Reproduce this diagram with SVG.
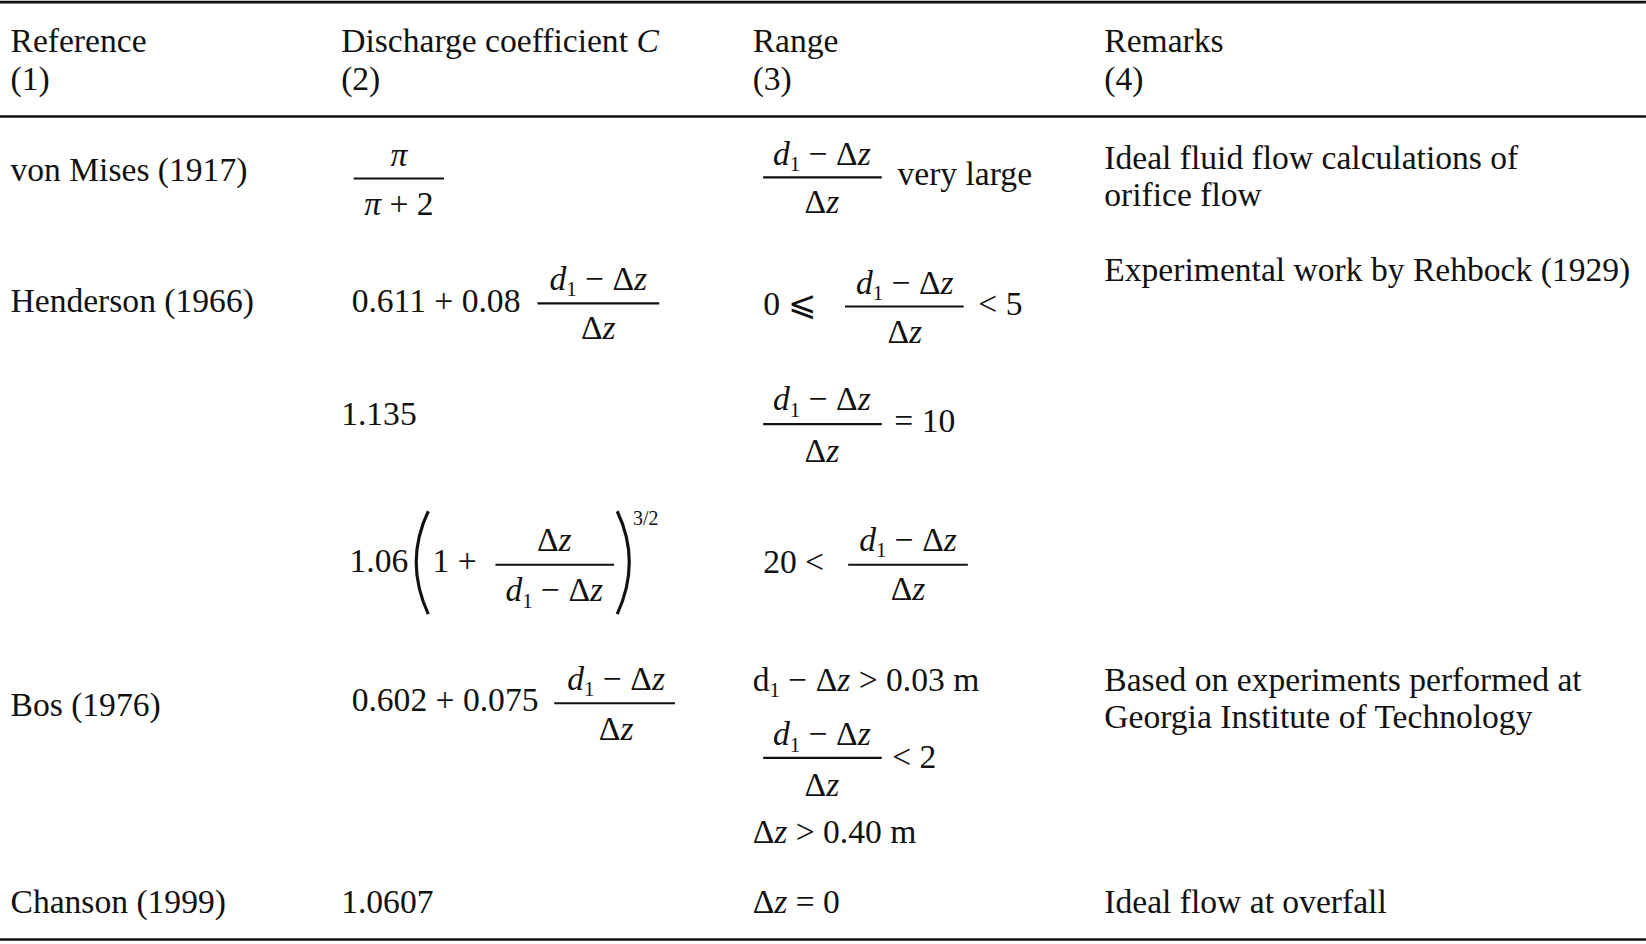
<svg xmlns="http://www.w3.org/2000/svg" width="1646" height="944" viewBox="0 0 1646 944">
<style>
text{font-family:"Liberation Serif","Times New Roman",serif;font-size:32px;fill:#111}
.i{font-style:italic}
.s{font-size:20px}
.sup{font-size:19px}
.fl{stroke:#111;stroke-width:2}
.rule{stroke:#111;stroke-width:2.5}
</style>
<rect width="1646" height="944" fill="#fff"/>
<g transform="scale(1.0497)">
<g id="rules">
<line class="rule" x1="0" y1="2" x2="1568" y2="2"/>
<line class="rule" x1="0" y1="111" x2="1568" y2="111"/>
<line class="rule" x1="0" y1="895" x2="1568" y2="895" stroke-width="3"/>
</g>
<g id="header">
<text x="10" y="50">Reference</text><text x="10" y="86">(1)</text>
<text x="325" y="50">Discharge coefficient <tspan class="i">C</tspan></text><text x="325" y="86">(2)</text>
<text x="717" y="50">Range</text><text x="717" y="86">(3)</text>
<text x="1052" y="50">Remarks</text><text x="1052" y="86">(4)</text>
</g>
<g id="row-vonmises">
<text x="10" y="172">von Mises (1917)</text>
<text x="380" y="158" text-anchor="middle" class="i">π</text>
<line class="fl" x1="337" y1="170" x2="423" y2="170"/>
<text x="380" y="205" text-anchor="middle"><tspan class="i">π</tspan> + 2</text>
<text x="783" y="157" text-anchor="middle"><tspan class="i">d</tspan><tspan class="s" dy="6">1</tspan><tspan dy="-6"> − Δ</tspan><tspan class="i">z</tspan></text>
<line class="fl" x1="727" y1="169" x2="840" y2="169"/>
<text x="783" y="203" text-anchor="middle">Δ<tspan class="i">z</tspan></text>
<text x="855" y="176">very large</text>
<text x="1052" y="161">Ideal fluid flow calculations of</text>
<text x="1052" y="196">orifice flow</text>
</g>
<g id="row-henderson">
<text x="10" y="297">Henderson (1966)</text>
<text x="335" y="297">0.611 + 0.08</text>
<text x="570" y="276" text-anchor="middle"><tspan class="i">d</tspan><tspan class="s" dy="6">1</tspan><tspan dy="-6"> − Δ</tspan><tspan class="i">z</tspan></text>
<line class="fl" x1="512" y1="289" x2="628" y2="289"/>
<text x="570" y="323" text-anchor="middle">Δ<tspan class="i">z</tspan></text>
<text x="727" y="300">0 ⩽</text>
<text x="862" y="280" text-anchor="middle"><tspan class="i">d</tspan><tspan class="s" dy="6">1</tspan><tspan dy="-6"> − Δ</tspan><tspan class="i">z</tspan></text>
<line class="fl" x1="805" y1="292" x2="918" y2="292"/>
<text x="862" y="327" text-anchor="middle">Δ<tspan class="i">z</tspan></text>
<text x="932" y="300">&lt; 5</text>
<text x="1052" y="268">Experimental work by Rehbock (1929)</text>
</g>
<g id="row-henderson-2">
<text x="325" y="405">1.135</text>
<text x="783" y="391" text-anchor="middle"><tspan class="i">d</tspan><tspan class="s" dy="6">1</tspan><tspan dy="-6"> − Δ</tspan><tspan class="i">z</tspan></text>
<line class="fl" x1="727" y1="404" x2="840" y2="404"/>
<text x="783" y="440" text-anchor="middle">Δ<tspan class="i">z</tspan></text>
<text x="852" y="412">= 10</text>
</g>
<g id="row-henderson-3">
<text x="333" y="545">1.06</text>
<path d="M408 487 Q385 535 408 585" fill="none" stroke="#111" stroke-width="3"/>
<text x="412" y="545">1 +</text>
<text x="528" y="525" text-anchor="middle">Δ<tspan class="i">z</tspan></text>
<line class="fl" x1="472" y1="538" x2="585" y2="538"/>
<text x="528" y="573" text-anchor="middle"><tspan class="i">d</tspan><tspan class="s" dy="6">1</tspan><tspan dy="-6"> − Δ</tspan><tspan class="i">z</tspan></text>
<path d="M588 487 Q611 535 588 585" fill="none" stroke="#111" stroke-width="3"/>
<text x="603" y="500" class="sup">3/2</text>
<text x="727" y="546">20 &lt;</text>
<text x="865" y="525" text-anchor="middle"><tspan class="i">d</tspan><tspan class="s" dy="6">1</tspan><tspan dy="-6"> − Δ</tspan><tspan class="i">z</tspan></text>
<line class="fl" x1="808" y1="538" x2="922" y2="538"/>
<text x="865" y="572" text-anchor="middle">Δ<tspan class="i">z</tspan></text>
</g>
<g id="row-bos">
<text x="10" y="682">Bos (1976)</text>
<text x="335" y="677">0.602 + 0.075</text>
<text x="587" y="657" text-anchor="middle"><tspan class="i">d</tspan><tspan class="s" dy="6">1</tspan><tspan dy="-6"> − Δ</tspan><tspan class="i">z</tspan></text>
<line class="fl" x1="528" y1="670" x2="643" y2="670"/>
<text x="587" y="705" text-anchor="middle">Δ<tspan class="i">z</tspan></text>
<text x="717" y="658">d<tspan class="s" dy="6">1</tspan><tspan dy="-6"> − Δ</tspan><tspan class="i">z</tspan> &gt; 0.03 m</text>
<text x="783" y="710" text-anchor="middle"><tspan class="i">d</tspan><tspan class="s" dy="6">1</tspan><tspan dy="-6"> − Δ</tspan><tspan class="i">z</tspan></text>
<line class="fl" x1="727" y1="722" x2="840" y2="722"/>
<text x="783" y="758" text-anchor="middle">Δ<tspan class="i">z</tspan></text>
<text x="850" y="732">&lt; 2</text>
<text x="717" y="803">Δ<tspan class="i">z</tspan> &gt; 0.40 m</text>
<text x="1052" y="658">Based on experiments performed at</text>
<text x="1052" y="694">Georgia Institute of Technology</text>
</g>
<g id="row-chanson">
<text x="10" y="870">Chanson (1999)</text>
<text x="325" y="870">1.0607</text>
<text x="717" y="870">Δ<tspan class="i">z</tspan> = 0</text>
<text x="1052" y="870">Ideal flow at overfall</text>
</g>
</g>
</svg>
